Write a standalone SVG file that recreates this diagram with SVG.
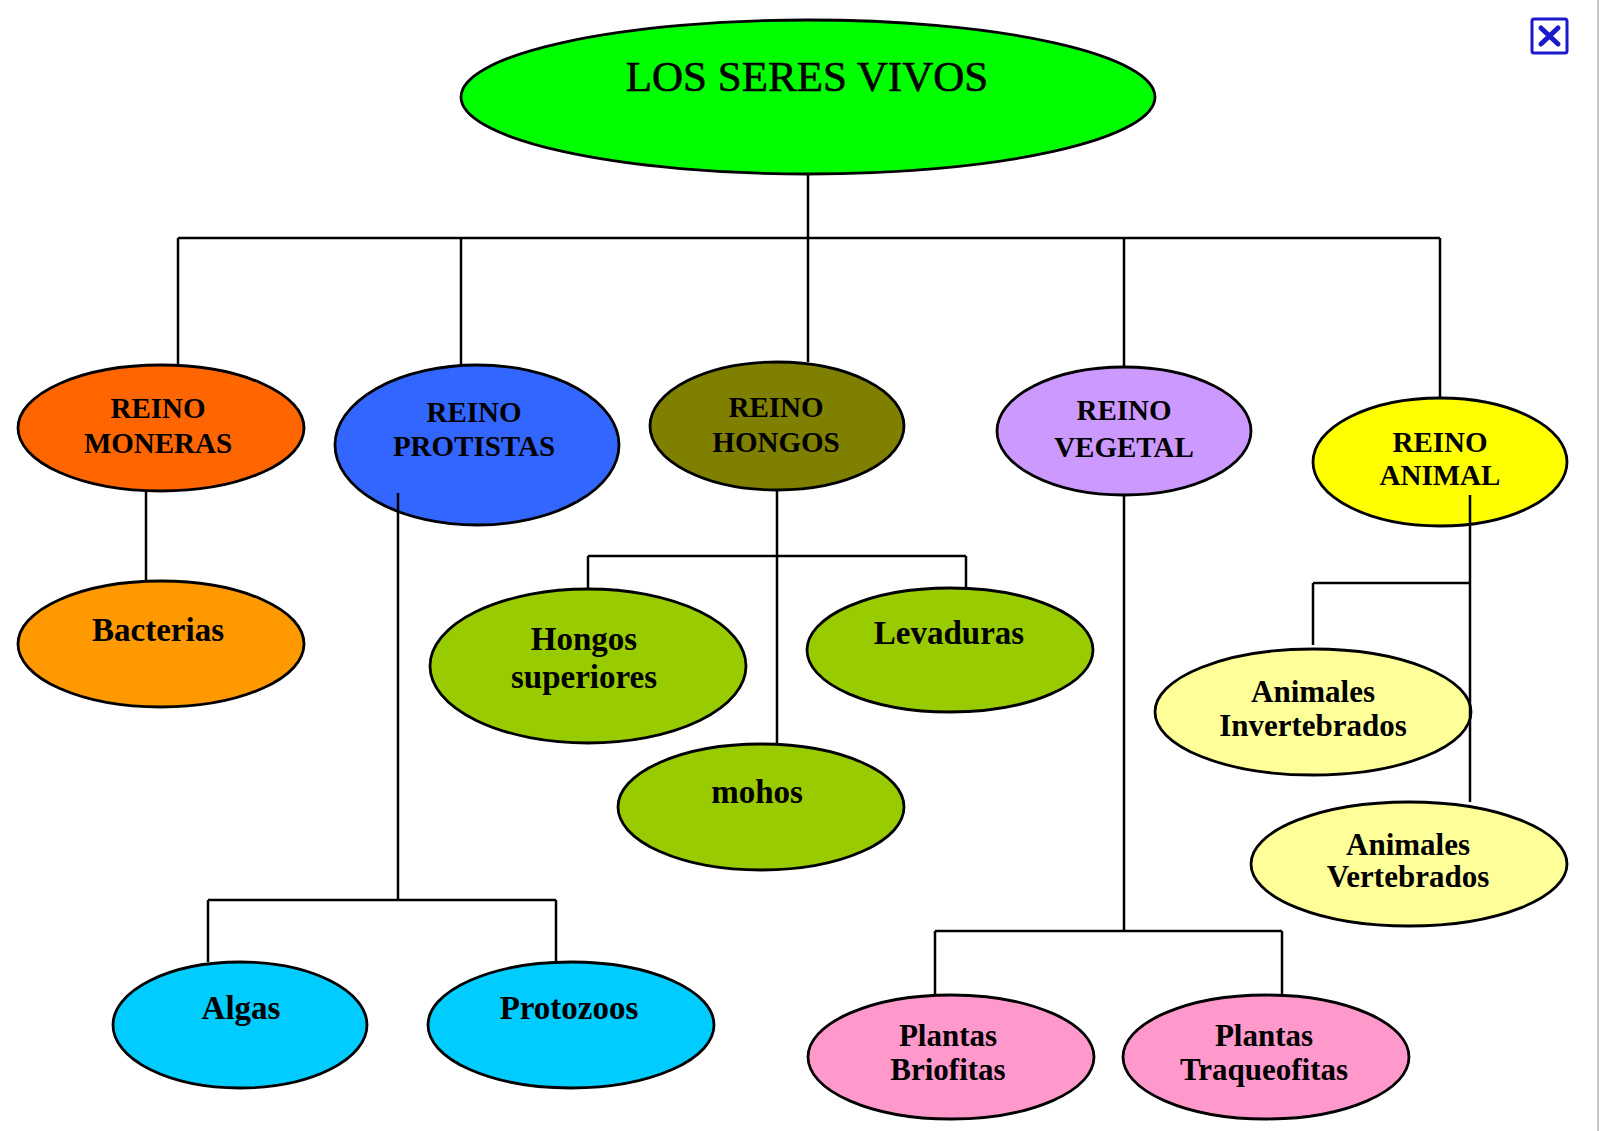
<svg xmlns="http://www.w3.org/2000/svg" width="1600" height="1131" viewBox="0 0 1600 1131">
<style>
.n{stroke:#000;stroke-width:2.8}
.c{stroke:#000;stroke-width:2.5;fill:none}
.t{font-family:"Liberation Serif","Times New Roman",serif;font-weight:bold;fill:#000;text-anchor:middle}
.k{font-size:29px}
.l{font-size:33px}
.s{font-size:31px}
</style>
<rect width="1600" height="1131" fill="#fff"/>
<line x1="1598" y1="0" x2="1598" y2="1131" stroke="#c8c8c8" stroke-width="2"/>
<g id="close">
<rect x="1532" y="19" width="35" height="34" rx="2" fill="#fff" stroke="#1a1acc" stroke-width="3"/>
<path d="M1541 28 L1558 44 M1558 28 L1541 44" stroke="#1a1acc" stroke-width="5" stroke-linecap="round"/>
</g>
<g id="root">
<ellipse class="n" cx="808" cy="97" rx="347" ry="77" fill="#00FF00"/>
<text class="t" x="807" y="91" style="font-size:43px;font-weight:normal;stroke:#000;stroke-width:0.6">LOS SERES VIVOS</text>
</g>
<g id="moneras">
<ellipse class="n" cx="161" cy="428" rx="143" ry="63" fill="#FF6600"/>
<text class="t k" x="158" y="418">REINO</text>
<text class="t k" x="158" y="453">MONERAS</text>
</g>
<g id="protistas">
<ellipse class="n" cx="477" cy="445" rx="142" ry="80" fill="#3366FF"/>
<text class="t k" x="474" y="422">REINO</text>
<text class="t k" x="474" y="456">PROTISTAS</text>
</g>
<g id="hongos">
<ellipse class="n" cx="777" cy="426" rx="127" ry="64" fill="#808000"/>
<text class="t k" x="776" y="417">REINO</text>
<text class="t k" x="776" y="452">HONGOS</text>
</g>
<g id="vegetal">
<ellipse class="n" cx="1124" cy="431" rx="127" ry="64" fill="#CC99FF"/>
<text class="t k" x="1124" y="420">REINO</text>
<text class="t k" x="1124" y="457">VEGETAL</text>
</g>
<g id="animal">
<ellipse class="n" cx="1440" cy="462" rx="127" ry="64" fill="#FFFF00"/>
<text class="t k" x="1440" y="452">REINO</text>
<text class="t k" x="1440" y="485">ANIMAL</text>
</g>
<g id="bacterias">
<ellipse class="n" cx="161" cy="644" rx="143" ry="63" fill="#FF9900"/>
<text class="t l" x="158" y="641">Bacterias</text>
</g>
<g id="algas">
<ellipse class="n" cx="240" cy="1025" rx="127" ry="63" fill="#00CCFF"/>
<text class="t l" x="241" y="1019">Algas</text>
</g>
<g id="protozoos">
<ellipse class="n" cx="571" cy="1025" rx="143" ry="63" fill="#00CCFF"/>
<text class="t l" x="569" y="1019">Protozoos</text>
</g>
<g id="hongos-superiores">
<ellipse class="n" cx="588" cy="666" rx="158" ry="77" fill="#99CC00"/>
<text class="t l" x="584" y="650">Hongos</text>
<text class="t l" x="584" y="688">superiores</text>
</g>
<g id="levaduras">
<ellipse class="n" cx="950" cy="650" rx="143" ry="62" fill="#99CC00"/>
<text class="t l" x="949" y="644">Levaduras</text>
</g>
<g id="mohos">
<ellipse class="n" cx="761" cy="807" rx="143" ry="63" fill="#99CC00"/>
<text class="t l" x="757" y="803">mohos</text>
</g>
<g id="briofitas">
<ellipse class="n" cx="951" cy="1057" rx="143" ry="62" fill="#FF99CC"/>
<text class="t s" x="948" y="1046">Plantas</text>
<text class="t s" x="948" y="1080">Briofitas</text>
</g>
<g id="traqueofitas">
<ellipse class="n" cx="1266" cy="1057" rx="143" ry="62" fill="#FF99CC"/>
<text class="t s" x="1264" y="1046">Plantas</text>
<text class="t s" x="1264" y="1080">Traqueofitas</text>
</g>
<g id="invertebrados">
<ellipse class="n" cx="1313" cy="712" rx="158" ry="63" fill="#FFFF99"/>
<text class="t s" x="1313" y="702">Animales</text>
<text class="t s" x="1313" y="736">Invertebrados</text>
</g>
<g id="vertebrados">
<ellipse class="n" cx="1409" cy="864" rx="158" ry="62" fill="#FFFF99"/>
<text class="t s" x="1408" y="855">Animales</text>
<text class="t s" x="1408" y="887">Vertebrados</text>
</g>
<g id="connectors" class="c">
<path d="M808 174 V238 M178 238 H1440 M178 238 V365 M461 238 V365 M808 238 V362 M1124 238 V367 M1440 238 V398"/>
<path d="M146 492 V581"/>
<path d="M398 493 V900 M208 900 H556 M208 900 V962 M556 900 V962"/>
<path d="M777 491 V744 M588 556 H966 M588 556 V589 M966 556 V588"/>
<path d="M1124 495 V931 M935 931 H1282 M935 931 V995 M1282 931 V995"/>
<path d="M1470 495 V802 M1313 583 H1470 M1313 583 V645"/>
</g>
</svg>
